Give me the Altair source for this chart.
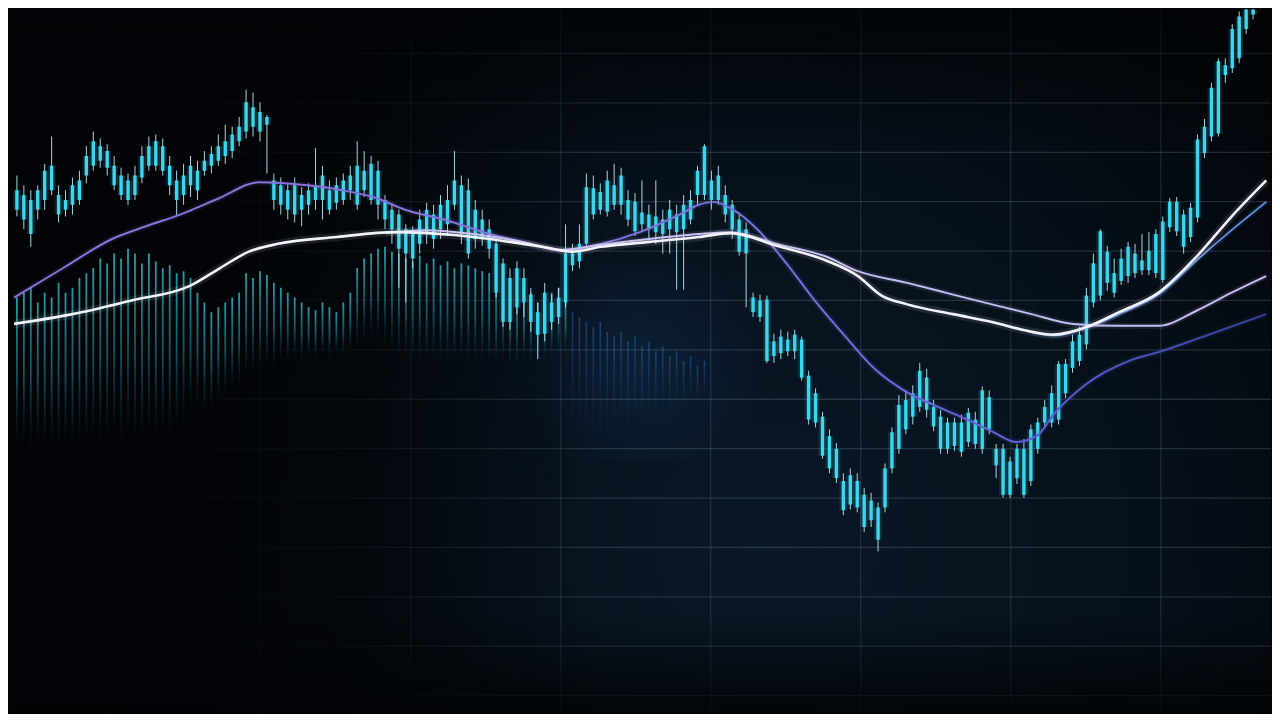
import altair as alt
import pandas as pd

# ---------------- data (price units) ----------------
body_top = [
    53.5, 53.0, 52.5, 53.5, 55.5, 56.0, 53.0, 52.5, 54.0, 54.5,
    57.0, 58.5, 58.0, 57.5, 56.0, 55.0, 54.5, 55.0, 57.0, 58.0,
    58.5, 58.0, 56.0, 54.5, 55.0, 56.0, 55.5, 56.5, 57.2, 58.0,
    58.5, 59.2, 60.0, 62.5, 62.0, 61.5, 61.0, 54.5, 54.0, 53.5,
    54.0, 53.0, 53.5, 54.0, 55.0, 53.5, 54.0, 54.5, 55.0, 56.0,
    55.5, 56.2, 55.5, 52.5, 51.5, 51.0, 49.5, 49.0, 50.5, 51.5,
    51.0, 52.0, 52.5, 54.5, 54.0, 53.5, 51.5, 50.5, 49.5, 48.0,
    46.0, 44.5, 45.5, 44.5, 42.8, 41.0, 43.0, 42.0, 42.5, 47.0,
    47.0, 48.0, 53.8, 53.7, 53.3, 54.5, 54.0, 55.0, 52.5, 52.3,
    51.2, 51.0, 50.8, 50.5, 51.5, 51.0, 52.0, 52.5, 55.5, 58.0,
    54.5, 55.0, 53.0, 52.0, 50.5, 49.5, 42.5, 42.2, 42.3, 38.0,
    38.5, 38.2, 38.7, 38.2, 34.5, 32.7, 30.3, 28.3, 27.0, 23.7,
    24.3, 23.7, 22.3, 21.7, 21.0, 25.0, 28.7, 31.5, 32.0, 32.7,
    35.0, 34.3, 31.3, 30.3, 29.7, 29.7, 29.7, 30.7, 30.0, 33.0,
    32.3, 27.0, 27.0, 25.7, 27.0, 27.0, 29.0, 29.7, 31.3, 32.7,
    35.7, 35.7, 38.0, 38.7, 42.7, 46.0, 49.3, 47.2, 45.0, 46.5,
    47.7, 47.0, 46.3, 47.3, 49.0, 50.3, 52.3, 52.3, 51.0, 51.7,
    58.7, 60.0, 64.0, 66.7, 66.3, 70.0, 71.3, 72.5, 74.0, 75.0,
]
body_bottom = [
    51.5, 50.5, 49.0, 51.5, 52.5, 53.5, 51.0, 51.5, 52.0, 52.5,
    55.0, 56.0, 56.5, 55.8, 54.0, 53.0, 52.5, 53.0, 54.8, 56.0,
    56.0, 55.5, 54.0, 52.5, 53.0, 54.0, 53.5, 55.5, 56.0, 56.5,
    57.0, 57.5, 58.5, 59.5, 60.0, 59.5, 60.2, 52.5, 52.0, 51.5,
    51.0, 51.5, 52.0, 52.5, 52.5, 51.5, 52.2, 52.5, 53.5, 52.0,
    53.5, 52.5, 52.0, 50.5, 49.5, 47.5, 47.0, 46.5, 48.0, 49.0,
    48.5, 49.5, 50.0, 52.0, 49.0, 47.0, 48.5, 48.5, 47.5, 43.0,
    40.0, 40.0, 41.5, 42.0, 40.0, 38.7, 38.8, 40.0, 40.5, 42.0,
    45.8, 46.2, 48.0, 51.0, 51.5, 51.3, 52.0, 52.0, 50.5, 49.3,
    50.0, 49.5, 49.2, 49.0, 49.5, 49.2, 49.5, 50.5, 53.0, 53.0,
    52.5, 52.5, 51.0, 49.5, 47.2, 47.0, 41.0, 40.5, 36.0, 36.5,
    36.8, 37.0, 37.0, 34.3, 30.0, 29.7, 26.3, 25.0, 24.0, 20.7,
    21.3, 21.0, 19.0, 19.7, 17.7, 21.0, 25.0, 27.0, 29.0, 30.3,
    31.3, 31.0, 29.3, 27.0, 27.0, 27.3, 26.7, 27.7, 27.5, 27.0,
    29.0, 25.3, 22.3, 22.3, 24.0, 22.3, 23.7, 27.0, 29.7, 29.7,
    30.0, 32.7, 35.3, 36.0, 37.7, 42.0, 42.7, 44.0, 43.0, 44.2,
    44.7, 45.0, 45.3, 45.3, 45.0, 44.3, 49.7, 49.3, 47.7, 48.7,
    50.7, 57.3, 59.0, 59.3, 65.3, 66.0, 67.0, 70.0, 71.5, 72.5,
]
high = [
    55.0, 54.0, 53.5, 54.0, 56.2, 59.0, 54.0, 53.5, 54.8, 55.5,
    58.0, 59.5, 58.8, 58.2, 57.0, 55.8, 55.2, 56.0, 58.0, 59.0,
    59.2, 58.8, 57.0, 55.5, 56.2, 57.0, 56.5, 57.5, 58.0, 59.2,
    60.2, 60.0, 61.0, 63.8, 63.5, 62.5, 61.2, 55.2, 54.8, 54.2,
    54.8, 53.8, 54.2, 57.8, 56.0, 54.5, 54.8, 55.2, 56.0, 58.5,
    57.5, 57.0, 56.5, 53.0, 52.2, 51.5, 50.0, 49.8, 51.5, 52.2,
    52.0, 53.0, 54.0, 57.5, 55.0, 54.7, 52.5, 51.5, 50.5, 48.8,
    46.5, 45.5, 46.2, 45.5, 43.5, 42.0, 44.0, 42.8, 43.5, 50.0,
    48.0, 50.0, 55.2, 55.0, 54.2, 55.5, 56.2, 55.8, 53.5, 53.2,
    54.5, 52.0, 54.5, 51.5, 52.5, 52.0, 53.0, 53.5, 56.0, 58.2,
    55.5, 56.0, 54.0, 52.5, 51.2, 50.2, 43.0, 42.8, 42.7, 38.8,
    39.2, 39.0, 39.2, 38.5, 35.0, 33.2, 30.8, 29.0, 27.6, 24.5,
    25.0, 24.5, 23.0, 22.5, 21.5, 25.5, 29.2, 32.5, 33.0, 33.5,
    35.8, 35.2, 32.0, 31.0, 30.2, 30.2, 30.5, 31.2, 30.8, 33.4,
    33.0, 27.5, 27.5, 26.2, 27.5, 28.0, 29.5, 30.2, 32.0, 33.5,
    36.0, 36.2, 38.7, 39.5, 43.5, 47.0, 49.5, 47.8, 46.5, 47.5,
    48.2, 48.0, 49.0, 49.2, 49.5, 50.8, 52.7, 52.8, 51.5, 52.2,
    59.2, 60.8, 64.5, 67.0, 67.0, 70.5, 71.8, 73.0, 74.5, 75.5,
]
low = [
    50.8, 49.5, 47.7, 50.5, 51.5, 53.0, 50.2, 50.8, 51.0, 52.0,
    54.2, 55.5, 55.8, 55.0, 53.5, 52.5, 52.0, 52.5, 54.2, 55.5,
    55.5, 55.0, 53.0, 50.8, 52.0, 52.8, 52.5, 55.0, 55.2, 56.0,
    56.2, 56.8, 58.0, 58.8, 59.0, 58.5, 55.2, 51.5, 51.0, 50.5,
    50.2, 49.8, 51.0, 51.5, 50.5, 51.0, 51.5, 52.0, 52.5, 51.5,
    52.8, 52.0, 50.5, 49.5, 48.0, 43.5, 42.0, 45.5, 47.0, 48.0,
    47.5, 48.5, 48.8, 51.5, 48.0, 46.5, 47.5, 47.8, 46.5, 42.5,
    39.5, 39.2, 40.8, 40.5, 39.0, 36.2, 38.0, 39.2, 39.8, 41.5,
    45.2, 45.5, 47.5, 50.5, 51.0, 50.8, 51.5, 51.0, 49.8, 48.8,
    49.2, 48.5, 48.0, 47.0, 47.0, 43.3, 43.3, 50.0, 52.0, 52.5,
    51.5, 52.0, 50.2, 48.5, 46.8, 41.5, 40.5, 40.0, 35.8, 35.8,
    36.2, 36.5, 36.2, 34.0, 29.5, 29.2, 26.0, 24.5, 23.5, 20.2,
    20.8, 20.5, 18.5, 19.0, 16.5, 20.5, 24.5, 26.5, 28.5, 29.5,
    30.8, 30.2, 28.8, 26.5, 26.5, 26.8, 26.2, 27.2, 27.0, 26.5,
    28.5, 24.0, 22.0, 22.0, 23.4, 22.0, 23.2, 26.5, 29.2, 29.2,
    29.5, 32.2, 34.8, 35.5, 37.2, 41.5, 42.2, 43.2, 42.5, 43.8,
    44.0, 44.5, 44.8, 44.8, 44.5, 44.0, 49.2, 48.8, 47.0, 48.2,
    50.2, 56.8, 58.5, 59.0, 64.5, 65.5, 66.5, 69.5, 71.0, 72.0,
]

# background volume-like histogram (first 80 sessions)
vol_top = [
    42.5, 43.0, 43.5, 42.0, 43.0, 42.5, 44.0, 43.0, 43.5, 44.5,
    45.0, 45.5, 46.5, 46.0, 47.0, 46.5, 47.5, 47.0, 46.0, 47.0,
    46.2, 45.5, 45.8, 45.0, 45.2, 44.5, 43.0, 42.0, 41.0, 41.5,
    42.0, 42.5, 43.0, 45.0, 44.5, 45.2, 44.8, 44.0, 43.5, 43.0,
    42.5, 42.0, 41.5, 41.2, 42.0, 41.5, 41.0, 42.0, 43.0, 45.5,
    46.5, 47.0, 47.5, 47.7, 47.2, 47.0, 46.5, 46.2, 46.8, 46.0,
    46.5, 45.8, 46.2, 45.5, 46.0, 45.8, 45.5, 45.2, 45.0, 44.5,
    44.0, 43.5, 43.0, 42.5, 43.0, 42.0, 42.5, 43.0, 43.5, 42.0,
]
vol_bottom = [
    27.0, 27.2, 26.8, 27.5, 27.0, 27.2, 26.8, 27.4, 27.0, 27.5,
    27.2, 28.0, 27.5, 27.8, 28.0, 27.5, 28.2, 27.8, 28.0, 28.4,
    28.0, 28.5, 28.2, 29.0, 30.0, 31.0, 31.5, 30.5, 31.0, 32.0,
    32.5, 33.0, 33.5, 34.5, 34.8, 35.0, 35.5, 35.2, 36.0, 35.8,
    36.2, 36.0, 36.4, 36.2, 36.5, 36.3, 36.8, 36.5, 37.0, 37.5,
    38.0, 38.5, 38.2, 37.5, 37.0, 36.5, 36.2, 36.0, 36.0, 36.0,
    36.0, 36.0, 36.0, 36.0, 36.0, 36.0, 36.0, 36.0, 35.8, 35.5,
    36.0, 35.3, 35.5, 36.0, 35.8, 35.5, 36.0, 36.2, 36.5, 37.0,
]
# faint bluish continuation of the histogram (sessions 80-99)
vol2_top = [41.0, 40.5, 40.0, 39.5, 40.0, 39.0, 38.5, 39.0, 38.0, 38.5,
            37.5, 38.0, 37.0, 37.5, 36.5, 37.0, 36.0, 36.5, 35.5, 36.0]
vol2_bottom = [29.0, 28.5, 28.0, 28.5, 28.0, 29.0, 28.5, 29.5, 29.0, 30.0,
               29.5, 30.5, 30.0, 31.0, 30.5, 31.5, 31.0, 32.0, 31.5, 32.5]

# moving averages (session index, price)
fast_x = [-0.4, 6.6, 13.7, 18.6, 23.5, 29.2, 34.8, 41.8, 46.8, 51.7, 55.9, 61.5,
          67.2, 72.8, 78.5, 84.1, 89.7, 95.4, 98.2, 100.3, 103.1, 106.6, 110.8,
          115.1, 119.3, 123.5, 127.7, 132.0, 136.2, 140.4, 143.9, 146.8, 149.6,
          154.1, 160.1, 164.8, 172.8, 179.9]
fast_y = [42.5, 45.5, 48.5, 49.8, 51.0, 52.7, 54.3, 54.0, 53.5, 52.7, 51.5, 50.5,
          49.2, 48.2, 47.3, 48.0, 49.2, 51.0, 52.0, 52.3, 51.5, 49.5, 46.0,
          42.0, 38.5, 35.2, 33.0, 31.5, 30.2, 28.8, 27.7, 28.3, 30.8,
          33.7, 36.0, 37.0, 39.0, 40.8]
white_x = [-0.4, 8.0, 16.5, 24.9, 29.2, 33.4, 37.6, 46.1, 54.5, 63.0, 70.0, 75.6,
           79.9, 84.1, 91.1, 98.2, 102.8, 109.4, 116.5, 121.1, 124.5, 128.2,
           134.8, 140.4, 146.1, 149.3, 154.1, 158.7, 164.4, 170.0, 174.9, 179.9]
white_y = [39.8, 40.8, 42.2, 43.7, 45.5, 47.2, 48.0, 48.7, 49.2, 48.9, 48.3, 47.7,
           47.2, 47.7, 48.2, 48.7, 49.1, 47.8, 46.3, 44.7, 42.7, 41.8,
           40.8, 40.0, 39.0, 38.7, 39.5, 41.0, 43.0, 46.8, 50.8, 54.5]
lav_x = [53.1, 58.7, 65.8, 72.8, 78.5, 84.1, 91.1, 98.2, 102.8, 109.4, 116.5,
         121.1, 128.2, 134.8, 140.4, 146.1, 152.1, 158.7, 164.4, 170.0, 174.9, 179.9]
lav_y = [49.1, 49.4, 49.0, 48.2, 47.4, 47.9, 48.5, 49.0, 49.2, 48.0, 46.7,
         45.2, 44.0, 42.8, 41.8, 40.8, 39.8, 39.6, 39.6, 41.2, 43.0, 44.7]
blue_x = [146.1, 149.3, 154.1, 158.7, 164.4, 170.0, 174.9, 179.9]
blue_y = [38.9, 38.6, 39.4, 40.8, 42.8, 46.4, 49.4, 52.3]

grid_x = [13.5, 35.1, 56.7, 78.3, 99.9, 121.5, 143.1, 164.7]
grid_y = [67.5, 62.44, 57.38, 52.32, 47.26, 42.2, 37.14, 32.08, 27.02, 21.96,
          16.9, 11.84, 6.78, 1.72]

# ---------------- chart ----------------
W, H = 1264, 704
xs = alt.Scale(domain=[-0.42, 179.86], nice=False, zero=False)
ys = alt.Scale(domain=[0, 72], nice=False, zero=False)

n = min(len(body_top), len(body_bottom), len(high), len(low))
candles = pd.DataFrame({
    "i": list(range(n)), "top": body_top[:n], "bot": body_bottom[:n],
    "hi": high[:n], "lo": low[:n],
})
nv = min(len(vol_top), len(vol_bottom))
vol = pd.DataFrame({"i": list(range(nv)), "vt": vol_top[:nv], "vb": vol_bottom[:nv]})
nv2 = min(len(vol2_top), len(vol2_bottom))
vol2 = pd.DataFrame({"i": [80 + k for k in range(nv2)], "vt": vol2_top[:nv2],
                     "vb": vol2_bottom[:nv2]})
one = pd.DataFrame({"k": [0]})


def stops(pairs):
    return [alt.GradientStop(offset=o, color=c) for o, c in pairs]


bg = alt.Chart(one).mark_rect(
    color=alt.RadialGradient(
        gradient="radial", x1=0.6, y1=0.64, r1=0.0, x2=0.6, y2=0.64, r2=0.6,
        stops=stops([(0, "#0a1826"), (0.5, "#06101a"), (1, "#010306")]),
    )
).encode(x=alt.value(0), x2=alt.value(W), y=alt.value(0), y2=alt.value(H))

haze = alt.Chart(one).mark_rect(
    color=alt.RadialGradient(
        gradient="radial", x1=0.5, y1=0.5, r1=0.0, x2=0.5, y2=0.5, r2=0.5,
        stops=stops([(0, "rgba(25,75,140,0.22)"), (1, "rgba(25,75,140,0)")]),
    )
).encode(x=alt.value(W * 0.40), x2=alt.value(W * 0.60),
         y=alt.value(H * 0.36), y2=alt.value(H * 0.64))

hgrid = alt.Chart(pd.DataFrame({"g": grid_y})).mark_rule(
    color="#9bb8cc", opacity=0.2, strokeWidth=1.3
).encode(y=alt.Y("g:Q", scale=ys, axis=None))
vgrid = alt.Chart(pd.DataFrame({"g": grid_x})).mark_rule(
    color="#9bb8cc", opacity=0.16, strokeWidth=1.2
).encode(x=alt.X("g:Q", scale=xs, axis=None))

left_fade = alt.Chart(one).mark_rect(
    color=alt.LinearGradient(
        gradient="linear", x1=0, y1=0, x2=1, y2=0,
        stops=stops([(0, "rgba(2,4,7,1)"), (0.55, "rgba(2,4,7,0.8)"), (1, "rgba(2,4,7,0)")]),
    )
).encode(x=alt.value(0), x2=alt.value(W * 0.47), y=alt.value(0), y2=alt.value(H))

top_fade = alt.Chart(one).mark_rect(
    color=alt.LinearGradient(
        gradient="linear", x1=0, y1=0, x2=0, y2=1,
        stops=stops([(0, "rgba(1,3,5,0.7)"), (1, "rgba(1,3,5,0)")]),
    )
).encode(x=alt.value(0), x2=alt.value(W), y=alt.value(0), y2=alt.value(H * 0.2))

bottom_fade = alt.Chart(one).mark_rect(
    color=alt.LinearGradient(
        gradient="linear", x1=0, y1=0, x2=0, y2=1,
        stops=stops([(0, "rgba(1,3,5,0)"), (1, "rgba(1,3,5,0.85)")]),
    )
).encode(x=alt.value(0), x2=alt.value(W), y=alt.value(H * 0.86), y2=alt.value(H))

vol_bars = alt.Chart(vol).mark_bar(
    size=1.8,
    color=alt.LinearGradient(
        gradient="linear", x1=0, y1=0, x2=0, y2=1,
        stops=stops([(0, "rgba(45,185,200,0.85)"), (0.55, "rgba(28,130,145,0.6)"),
                     (1, "rgba(15,60,75,0)")]),
    ),
    clip=True,
).encode(
    x=alt.X("i:Q", scale=xs, axis=None),
    y=alt.Y("vt:Q", scale=ys, axis=None),
    y2="vb:Q",
)
vol_bars2 = alt.Chart(vol2).mark_bar(
    size=1.5,
    color=alt.LinearGradient(
        gradient="linear", x1=0, y1=0, x2=0, y2=1,
        stops=stops([(0, "rgba(50,120,200,0.45)"), (1, "rgba(30,80,150,0)")]),
    ),
    clip=True,
).encode(
    x=alt.X("i:Q", scale=xs, axis=None),
    y=alt.Y("vt:Q", scale=ys, axis=None),
    y2="vb:Q",
)

X = alt.X("i:Q", scale=xs, axis=None)
cbase = alt.Chart(candles)
glow = cbase.mark_bar(size=8, color="#2fd0ea", opacity=0.14, clip=True).encode(
    x=X, y=alt.Y("top:Q", scale=ys, axis=None), y2="bot:Q")
wick = cbase.mark_rule(color="#b4eef7", strokeWidth=1, opacity=0.9, clip=True).encode(
    x=X, y=alt.Y("hi:Q", scale=ys, axis=None), y2="lo:Q")
body = cbase.mark_bar(size=3.4, color="#3ad8ee", clip=True).encode(
    x=X, y=alt.Y("top:Q", scale=ys, axis=None), y2="bot:Q")


def ma(xv, yv, color, width, opacity=1.0):
    df = pd.DataFrame({"x": xv, "y": yv})
    enc = dict(x=alt.X("x:Q", scale=xs, axis=None), y=alt.Y("y:Q", scale=ys, axis=None))
    halo = alt.Chart(df).mark_line(
        color=color, strokeWidth=width * 3.2, opacity=0.1 * opacity,
        interpolate="monotone", clip=True).encode(**enc)
    core = alt.Chart(df).mark_line(
        color=color, strokeWidth=width, opacity=opacity,
        interpolate="monotone", clip=True).encode(**enc)
    return [halo, core]


fast_color = alt.LinearGradient(
    gradient="linear", x1=0, y1=0, x2=1, y2=0,
    stops=stops([(0, "#8e70d6"), (0.55, "#7d74e2"), (0.8, "#5f62dc"), (1, "#303f90")]),
)

layers = [bg, haze, hgrid, vgrid, left_fade, top_fade, bottom_fade,
          vol_bars2, vol_bars, glow, wick, body]
layers += ma(fast_x, fast_y, fast_color, 2.0)
layers += ma(blue_x, blue_y, "#5f92e6", 1.8)
layers += ma(lav_x, lav_y, "#c3bdf2", 2.0)
layers += ma(white_x, white_y, "#f2f2fb", 2.6)

chart = alt.layer(*layers).properties(
    width=W, height=H, padding=0, background="#020407"
).configure_view(stroke=None)

chart.save("out.html", embed_options={"renderer": "svg", "actions": False})
